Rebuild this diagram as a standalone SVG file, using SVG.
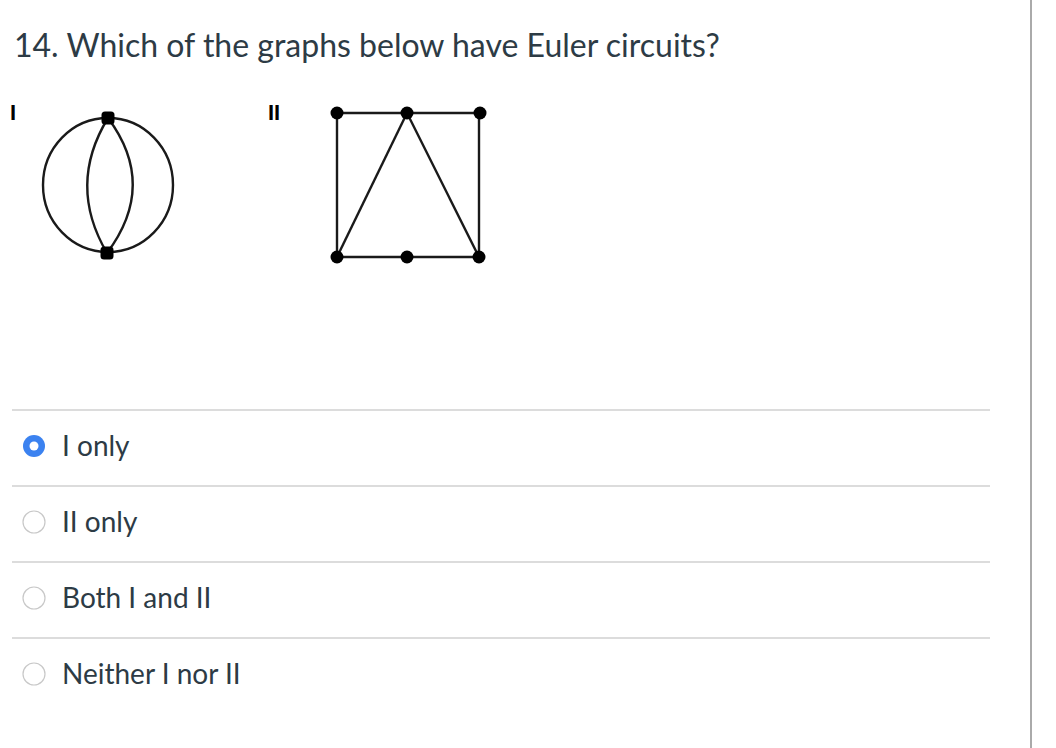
<svg xmlns="http://www.w3.org/2000/svg" width="1056" height="748" viewBox="0 0 1056 748">
<style>
.t{font-family:Lato,"Liberation Sans",sans-serif;fill:#2d3b45}
.e{stroke:#1a1a1a;stroke-width:2.4;fill:none}
.n{fill:#000}
.sep{stroke:#dcdcdc;stroke-width:2}
.radio{fill:#fff;stroke:#c8c8c8;stroke-width:1.2}
.lbl{font-family:"Liberation Sans",sans-serif;font-weight:bold;font-size:22px;fill:#000}
</style>
<rect width="1056" height="748" fill="#fff"/>
<line x1="1031" y1="0" x2="1031" y2="748" stroke="#aaa" stroke-width="2"/>
<text class="t" x="14" y="57" font-size="32">14. Which of the graphs below have Euler circuits?</text>
<g id="graph1">
<text class="lbl" x="10" y="120">I</text>
<g id="connectors1">
<ellipse class="e" cx="108" cy="185" rx="65" ry="67"/>
<path class="e" d="M108,118 Q67,185 107,253"/>
<path class="e" d="M108,118 Q158,185 107,253"/>
</g>
<rect id="n1top" class="n" x="101.5" y="111.5" width="13" height="13" rx="3.5"/>
<rect id="n1bot" class="n" x="100.5" y="246.5" width="13" height="13" rx="3.5"/>
</g>
<g id="graph2">
<text class="lbl" x="268" y="120">II</text>
<g id="connectors2">
<line class="e" x1="337" y1="113" x2="480" y2="113"/>
<line class="e" x1="337" y1="257" x2="479" y2="257"/>
<line class="e" x1="337" y1="113" x2="337" y2="257"/>
<line class="e" x1="479" y1="113" x2="479" y2="257"/>
<line class="e" x1="407" y1="113" x2="337" y2="257"/>
<line class="e" x1="407" y1="113" x2="479" y2="257"/>
</g>
<circle id="n2a" class="n" cx="337" cy="113" r="6.5"/>
<circle id="n2b" class="n" cx="407" cy="113" r="6.5"/>
<circle id="n2c" class="n" cx="480" cy="113" r="6.5"/>
<circle id="n2d" class="n" cx="337" cy="257" r="6.5"/>
<circle id="n2e" class="n" cx="407" cy="257" r="6.5"/>
<circle id="n2f" class="n" cx="479" cy="257" r="6.5"/>
</g>
<g id="options">
<line class="sep" x1="12" y1="410" x2="990" y2="410"/>
<line class="sep" x1="12" y1="486" x2="990" y2="486"/>
<line class="sep" x1="12" y1="562" x2="990" y2="562"/>
<line class="sep" x1="12" y1="638" x2="990" y2="638"/>
<g id="opt1">
<circle cx="34" cy="446" r="11" fill="#3b82f0"/>
<circle cx="34" cy="446" r="4.5" fill="#fff"/>
<text class="t" x="62" y="456" font-size="28">I only</text>
</g>
<g id="opt2">
<circle class="radio" cx="34" cy="522" r="11"/>
<text class="t" x="62" y="532" font-size="28">II only</text>
</g>
<g id="opt3">
<circle class="radio" cx="34" cy="598" r="11"/>
<text class="t" x="62" y="608" font-size="28">Both I and II</text>
</g>
<g id="opt4">
<circle class="radio" cx="34" cy="674" r="11"/>
<text class="t" x="62" y="684" font-size="28">Neither I nor II</text>
</g>
</g>
</svg>
